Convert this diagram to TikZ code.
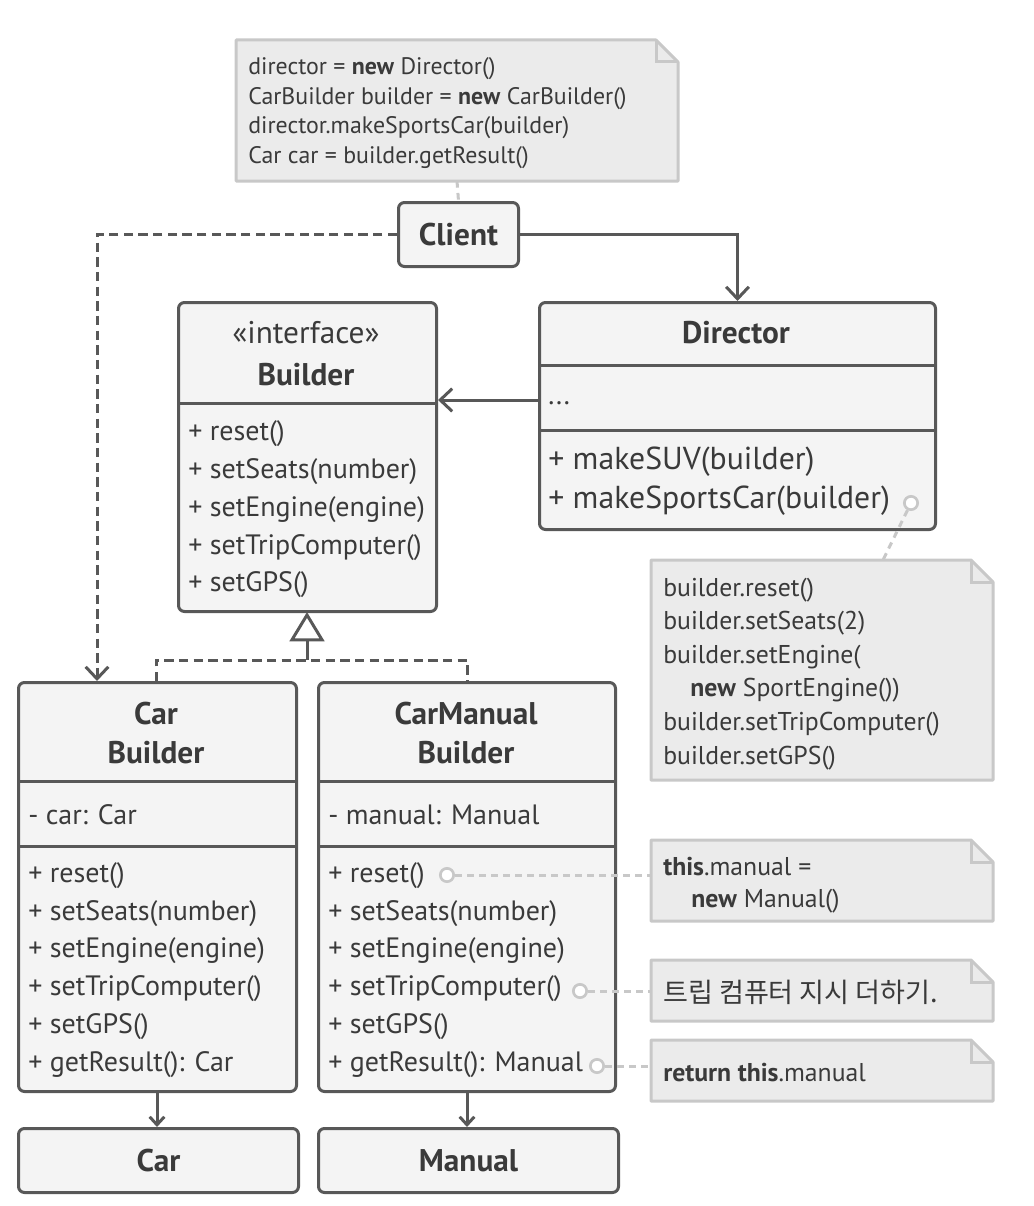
\documentclass[tikz,border=0pt]{standalone}
\usepackage{fontspec}
\setmainfont{PT Sans}
\newfontfamily\cjk{Noto Sans CJK KR}
\usetikzlibrary{arrows.meta,calc}
\definecolor{ln}{HTML}{585858}
\definecolor{bx}{HTML}{F4F4F4}
\definecolor{nf}{HTML}{EBEBEB}
\definecolor{ns}{HTML}{C8C8C8}
\definecolor{tx}{HTML}{3A3A3A}
\tikzset{
 x=0.75pt,y=-0.75pt,
 box/.style={draw=ln,fill=bx,line width=2.25pt,rounded corners=4.5pt,inner sep=0pt,anchor=north west},
 sep/.style={draw=ln,line width=2.25pt},
 t/.style={anchor=west,inner sep=0pt,text=tx,font=\fontsize{21}{24}\selectfont},
 tb/.style={inner sep=0pt,text=tx,font=\fontsize{23.5}{29}\selectfont\bfseries,align=center},
 nt/.style={anchor=west,inner sep=0pt,text=tx,font=\fontsize{17.9}{20}\selectfont},
 nt2/.style={anchor=west,inner sep=0pt,text=tx,font=\fontsize{19.3}{22}\selectfont},
 con/.style={draw=ln,line width=2.25pt},
 dcon/.style={draw=ln,line width=2.25pt,dash pattern=on 7pt off 4pt},
 ndot/.style={draw=ns,line width=2.25pt,dash pattern=on 5pt off 4pt},
 arr/.style={-{Straight Barb[length=9pt,width=17pt,line width=2.25pt]}},
 sarr/.style={-{Straight Barb[length=6pt,width=11pt,line width=2.25pt]}},
 circ/.style={circle,draw=ns,line width=2pt,fill=white,minimum size=10pt,inner sep=0pt},
}
\newcommand{\notebox}[5]{% name x1 y1 x2 y2
 \fill[nf] (#2,#3) -- ({#4-22},#3) -- (#4,{#3+22}) -- (#4,#5) -- (#2,#5) -- cycle;
 \draw[ns,line width=2.25pt,line join=round] (#2,#3) -- ({#4-22},#3) -- (#4,{#3+22}) -- (#4,#5) -- (#2,#5) -- cycle;
 \draw[ns,line width=2.25pt] ({#4-22},#3) -- ({#4-22},{#3+22}) -- (#4,{#3+22});
 \coordinate (#1) at (#2,#3);}
\begin{document}
\begin{tikzpicture}
\useasboundingbox (0,0) rectangle (1034,1206);
% notes
\notebox{n1}{236}{40}{678}{181}
\node[nt] at (248,69) {director = \textbf{new} Director()};
\node[nt] at (248,99) {CarBuilder builder = \textbf{new} CarBuilder()};
\node[nt] at (248,128) {director.makeSportsCar(builder)};
\node[nt] at (248,158) {Car car = builder.getResult()};
\notebox{n2}{651}{560}{993}{780}
\node[nt2] at (663,590) {builder.reset()};
\node[nt2] at (663,623) {builder.setSeats(2)};
\node[nt2] at (663,657) {builder.setEngine(};
\node[nt2] at (690,690) {\textbf{new} SportEngine())};
\node[nt2] at (663,724) {builder.setTripComputer()};
\node[nt2] at (663,758) {builder.setGPS()};
\notebox{n3}{651}{840}{993}{921}
\node[nt2] at (663,867) {\textbf{this}.manual =};
\node[nt2] at (691,901) {\textbf{new} Manual()};
\notebox{n4}{651}{960}{993}{1021}
\node[nt2,font=\cjk\fontsize{20.3}{22}\selectfont] at (663,992) {트립 컴퓨터 지시 더하기.};
\notebox{n5}{651}{1040}{993}{1101}
\node[nt2] at (663,1073) {\textbf{return this}.manual};

% Client
\node[box,minimum width={120*0.75pt},minimum height={64*0.75pt}] (client) at (397,201) {};
\node[tb] at (client.center) {Client};
% Director
\node[box,minimum width={396*0.75pt},minimum height={227*0.75pt}] (director) at (538,301) {};
\draw[sep] (538,365) -- (934,365) (538,430) -- (934,430);
\node[tb] at (736,333) {Director};
\node[t] at (548,403) {...};
\node[t,font=\fontsize{23.8}{26}\selectfont] at (548,462) {+ makeSUV(builder)};
\node[t,font=\fontsize{23.8}{26}\selectfont] at (548,501) {+ makeSportsCar(builder)};
% Builder
\node[box,minimum width={258*0.75pt},minimum height={309*0.75pt}] (builder) at (177,301) {};
\draw[sep] (177,403) -- (435,403);
\node[tb,font=\fontsize{23.5}{26}\selectfont] at (306,333) {«interface»};
\node[tb] at (306,375) {Builder};
\node[t] at (188,434) {+ reset()};
\node[t] at (188,472) {+ setSeats(number)};
\node[t] at (188,510) {+ setEngine(engine)};
\node[t] at (188,548) {+ setTripComputer()};
\node[t] at (188,585) {+ setGPS()};
% CarBuilder
\node[box,minimum width={278*0.75pt},minimum height={409*0.75pt}] (cb) at (17,681) {};
\draw[sep] (17,781) -- (295,781) (17,846) -- (295,846);
\node[tb] at (156,733) {Car\\Builder};
\node[t] at (28,815) {- car: Car};
\node[t] at (28,876) {+ reset()};
\node[t] at (28,914) {+ setSeats(number)};
\node[t] at (28,951) {+ setEngine(engine)};
\node[t] at (28,989) {+ setTripComputer()};
\node[t] at (28,1027) {+ setGPS()};
\node[t] at (28,1065) {+ getResult(): Car};
% CarManualBuilder
\node[box,minimum width={297*0.75pt},minimum height={409*0.75pt}] (cmb) at (317,681) {};
\draw[sep] (317,781) -- (614,781) (317,846) -- (614,846);
\node[tb] at (466,733) {CarManual\\Builder};
\node[t] at (328,815) {- manual: Manual};
\node[t] (m1) at (328,876) {+ reset()};
\node[t] at (328,914) {+ setSeats(number)};
\node[t] at (328,951) {+ setEngine(engine)};
\node[t] (m4) at (328,989) {+ setTripComputer()};
\node[t] at (328,1027) {+ setGPS()};
\node[t] (m6) at (328,1065) {+ getResult(): Manual};
% Car, Manual
\node[box,minimum width={280*0.75pt},minimum height={64*0.75pt}] (car) at (17,1127) {};
\node[tb] at (car.center) {Car};
\node[box,minimum width={300*0.75pt},minimum height={64*0.75pt}] (manual) at (317,1127) {};
\node[tb] at (manual.center) {Manual};

% connectors
\draw[ndot] (457,181) -- (client.north);
\draw[con,arr] (client.east) -| (director.north);
\coordinate (cbt) at (97,681);
\draw[dcon,arr] (client.west) -| (cbt);
\draw[con,arr] (538,400) -- (builder.east |- 0,400);
\coordinate (tri) at (307,612);
\coordinate (j) at (307,660);
\draw[dcon] (156,681) -- (156,660) -- (467,660) -- (467,681);
\draw[con,-{Triangle[open,length=22pt,width=26pt,line width=2.25pt]}] (j) -- (tri);
\draw[con,sarr] (cb.south -| 157,0) -- (car.north -| 157,0);
\draw[con,sarr] (cmb.south -| 467,0) -- (manual.north -| 467,0);
% note links
\node[circ] (c2) at (911,503) {};
\draw[ndot] (c2) -- (883,560);
\node[circ] (c3) at (447,875) {};
\draw[ndot] (c3) -- (651,875);
\node[circ] (c4) at (580,991) {};
\draw[ndot] (c4) -- (651,991);
\node[circ] (c5) at (597,1066) {};
\draw[ndot] (c5) -- (651,1066);
\end{tikzpicture}
\end{document}
